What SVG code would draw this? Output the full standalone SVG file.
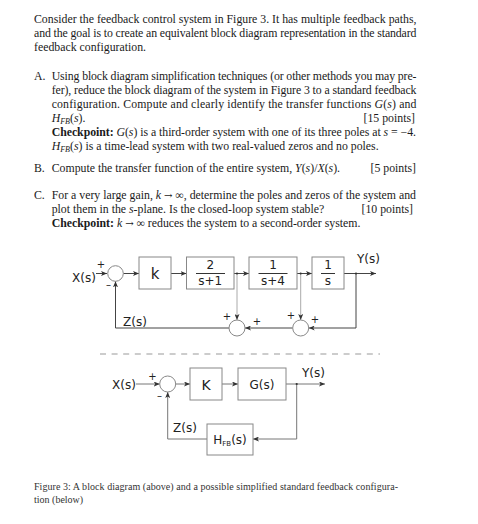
<svg xmlns="http://www.w3.org/2000/svg" width="478" height="524" viewBox="0 0 478 524">
<style>
.p{font-family:"Liberation Serif",serif;font-size:11.8px;fill:#1a1a1a}
.cap{font-family:"Liberation Serif",serif;font-size:10px;fill:#333}
.i{font-style:italic}
.b{font-weight:bold}
.sub{font-size:8px}
.arw{font-family:"DejaVu Serif",serif;font-size:10px}
.t{font-family:"DejaVu Sans",sans-serif;font-size:12px;fill:#222}
.sg{font-family:"DejaVu Sans",sans-serif;font-size:10px;fill:#222}
.ln{fill:none;stroke:#444;stroke-width:1}
.lg{fill:none;stroke:#aaa;stroke-width:1}
.l2{fill:none;stroke:#777;stroke-width:1}
.bx{fill:#fff;stroke:#888;stroke-width:1}
.cr{fill:#fff;stroke:#888;stroke-width:1}
.dot{fill:#333}
</style>
<defs>
<marker id="ar" markerWidth="6" markerHeight="5" refX="6" refY="2.5" orient="auto" markerUnits="userSpaceOnUse"><path d="M0,0 L6,2.5 L0,5 L1.5,2.5 z" fill="#333"/></marker>
</defs>
<rect width="478" height="524" fill="#fff"/>

<g id="problem-text">
<text class="p" x="34" y="23" textLength="382.5" lengthAdjust="spacing">Consider the feedback control system in Figure 3. It has multiple feedback paths,</text>
<text class="p" x="34" y="37" textLength="382.5" lengthAdjust="spacing">and the goal is to create an equivalent block diagram representation in the standard</text>
<text class="p" x="34" y="51">feedback configuration.</text>

<text class="p" x="34" y="80">A.</text>
<text class="p" x="51.7" y="80" textLength="364.8" lengthAdjust="spacing">Using block diagram simplification techniques (or other methods you may pre-</text>
<text class="p" x="51.7" y="94" textLength="364.8" lengthAdjust="spacing">fer), reduce the block diagram of the system in Figure 3 to a standard feedback</text>
<text class="p" x="51.7" y="108" textLength="364.8" lengthAdjust="spacing">configuration.  Compute and clearly identify the transfer functions <tspan class="i">G</tspan>(<tspan class="i">s</tspan>) and</text>
<text class="p" x="51.7" y="122"><tspan class="i">H</tspan><tspan class="sub i" dy="2">FB</tspan><tspan dy="-2">(</tspan><tspan class="i">s</tspan>).</text>
<text class="p" x="415" y="122" text-anchor="end">[15 points]</text>
<text class="p" x="51.7" y="136" textLength="364.3" lengthAdjust="spacing"><tspan class="b">Checkpoint:</tspan> <tspan class="i">G</tspan>(<tspan class="i">s</tspan>) is a third-order system with one of its three poles at <tspan class="i">s</tspan> = −4.</text>
<text class="p" x="51.7" y="150"><tspan class="i">H</tspan><tspan class="sub i" dy="2">FB</tspan><tspan dy="-2">(</tspan><tspan class="i">s</tspan>) is a time-lead system with two real-valued zeros and no poles.</text>

<text class="p" x="34" y="172">B.</text>
<text class="p" x="51.7" y="172">Compute the transfer function of the entire system, <tspan class="i">Y</tspan>(<tspan class="i">s</tspan>)/<tspan class="i">X</tspan>(<tspan class="i">s</tspan>).</text>
<text class="p" x="416" y="172" text-anchor="end">[5 points]</text>

<text class="p" x="34" y="199">C.</text>
<text class="p" x="51.7" y="199" textLength="364.3" lengthAdjust="spacing">For a very large gain, <tspan class="i">k</tspan> <tspan class="arw">→</tspan> ∞, determine the poles and zeros of the system and</text>
<text class="p" x="51.7" y="213">plot them in the <tspan class="i">s</tspan>-plane. Is the closed-loop system stable?</text>
<text class="p" x="413" y="213" text-anchor="end">[10 points]</text>
<text class="p" x="51.7" y="227"><tspan class="b">Checkpoint:</tspan> <tspan class="i">k</tspan> <tspan class="arw">→</tspan> ∞ reduces the system to a second-order system.</text>
</g>

<g id="connectors">
<path class="ln" d="M96,273.5 H107" marker-end="url(#ar)"/>
<path class="ln" d="M123.3,273.5 H139" marker-end="url(#ar)"/>
<path class="ln" d="M171,273.5 H186.5" marker-end="url(#ar)"/>
<path class="ln" d="M234,273.5 H249" marker-end="url(#ar)"/>
<path class="ln" d="M297,273.5 H312" marker-end="url(#ar)"/>
<path class="ln" d="M344,273.5 H376" marker-end="url(#ar)"/>
<path class="lg" d="M237,273.5 V320" marker-end="url(#ar)"/>
<path class="lg" d="M300.7,273.5 V320" marker-end="url(#ar)"/>
<path class="ln" d="M356,273.5 V328 H308.7" marker-end="url(#ar)"/>
<path class="ln" d="M292.7,328 H245" marker-end="url(#ar)"/>
<path class="ln" d="M229,328 H115.5 V281.3" marker-end="url(#ar)"/>
<circle class="dot" cx="237" cy="273.5" r="1.1"/>
<circle class="dot" cx="300.7" cy="273.5" r="1.1"/>
<circle class="dot" cx="356" cy="273.5" r="1.1"/>
<path d="M100,354 H380" stroke="#999" stroke-width="1" stroke-dasharray="6,5.6" fill="none"/>
<path class="l2" d="M136,384 H159.7" marker-end="url(#ar)"/>
<path class="l2" d="M175.7,384 H190" marker-end="url(#ar)"/>
<path class="l2" d="M222,384 H238" marker-end="url(#ar)"/>
<path class="l2" d="M286,384 H325" marker-end="url(#ar)"/>
<path class="l2" d="M296.7,384 V439 H253" marker-end="url(#ar)"/>
<path class="l2" d="M207,439 H167.7 V392" marker-end="url(#ar)"/>
<circle class="dot" cx="296.7" cy="384" r="1.1"/>
</g>

<g id="sum1"><circle class="cr" cx="115.5" cy="273.5" r="7.8"/>
<text class="sg" x="101" y="268" text-anchor="middle">+</text><text class="sg" x="108.5" y="288" text-anchor="middle">–</text></g>
<g id="sum2"><circle class="cr" cx="237" cy="328" r="8"/>
<text class="sg" x="227" y="319.5" text-anchor="middle">+</text><text class="sg" x="257" y="324.5" text-anchor="middle">+</text></g>
<g id="sum3"><circle class="cr" cx="300.7" cy="328" r="8"/>
<text class="sg" x="291" y="318.5" text-anchor="middle">+</text><text class="sg" x="315" y="322.5" text-anchor="middle">+</text></g>

<g id="k-top"><rect class="bx" x="139" y="257" width="32" height="32"/>
<text class="t" x="155" y="279" text-anchor="middle" style="font-size:15px">k</text></g>
<g id="g1"><rect class="bx" x="186.5" y="257" width="47.5" height="32"/>
<text class="t" x="210.2" y="269" text-anchor="middle">2</text>
<path d="M196,273.5 H225" stroke="#333" stroke-width="1"/>
<text class="t" x="210.2" y="285" text-anchor="middle">s+1</text></g>
<g id="g2"><rect class="bx" x="249" y="257" width="48" height="32"/>
<text class="t" x="273" y="269" text-anchor="middle">1</text>
<path d="M258.5,273.5 H287.5" stroke="#333" stroke-width="1"/>
<text class="t" x="273" y="285" text-anchor="middle">s+4</text></g>
<g id="g3"><rect class="bx" x="312" y="257" width="32" height="32"/>
<text class="t" x="328" y="269" text-anchor="middle">1</text>
<path d="M321,273.5 H335" stroke="#333" stroke-width="1"/>
<text class="t" x="328" y="285" text-anchor="middle">s</text></g>

<g id="labels-top">
<text class="t" x="72" y="282">X(s)</text>
<text class="t" x="357" y="263">Y(s)</text>
<text class="t" x="123" y="325.5">Z(s)</text>
</g>

<g id="sum-b"><circle class="cr" cx="167.7" cy="384" r="8"/>
<text class="sg" x="152.5" y="380" text-anchor="middle">+</text><text class="sg" x="159.5" y="399" text-anchor="middle">–</text></g>
<g id="k-bottom"><rect class="bx" x="190" y="368" width="32" height="32"/>
<text class="t" x="206" y="390" text-anchor="middle" style="font-size:14px">K</text></g>
<g id="G"><rect class="bx" x="238" y="368" width="48" height="32"/>
<text class="t" x="262" y="389" text-anchor="middle">G(s)</text></g>
<g id="HFB"><rect class="bx" x="207" y="424" width="46" height="31"/>
<text class="t" x="230" y="444" text-anchor="middle">H<tspan style="font-size:7px" dy="1.5">FB</tspan><tspan dy="-1.5">(s)</tspan></text></g>
<g id="labels-bottom">
<text class="t" x="112" y="389">X(s)</text>
<text class="t" x="302" y="377">Y(s)</text>
<text class="t" x="173" y="432">Z(s)</text>
</g>

<g id="caption">
<text class="cap" x="34" y="490" textLength="364" lengthAdjust="spacing">Figure 3:  A block diagram (above) and a possible simplified standard feedback configura-</text>
<text class="cap" x="34" y="503">tion (below)</text>
</g>
</svg>
